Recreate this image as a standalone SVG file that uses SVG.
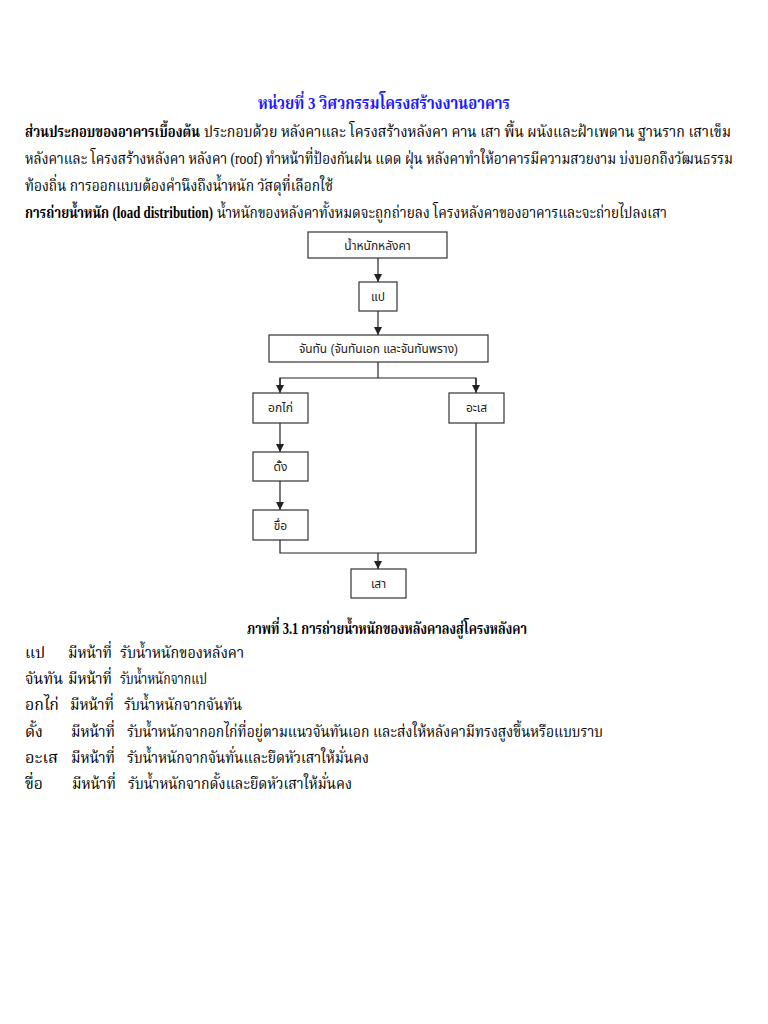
<svg xmlns="http://www.w3.org/2000/svg" width="768" height="1024" viewBox="0 0 768 1024">
<defs>
<style>
.t{font-family:"Liberation Serif","Noto Serif Thai","Noto Sans Thai","DejaVu Serif",serif;font-size:16px;fill:#000}
.b{font-weight:bold}
.title{font-family:"Liberation Serif","Noto Serif Thai","Noto Sans Thai",serif;font-size:17px;font-weight:bold;fill:#1a1aff}
.box{fill:#fff;stroke:#333;stroke-width:1.2}
.bt{font-family:"Liberation Sans","Noto Sans Thai","Noto Sans",sans-serif;font-size:12px;fill:#222;text-anchor:middle}
.ln{fill:none;stroke:#222;stroke-width:1.2}
</style>
<marker id="ah" viewBox="0 0 10 10" refX="10" refY="5" markerWidth="8" markerHeight="8" markerUnits="userSpaceOnUse" orient="auto">
<path d="M0,0 L10,5 L0,10 z" fill="#222"/>
</marker>
</defs>
<rect width="768" height="1024" fill="#fff"/>

<text class="title" x="258" y="109" textLength="252" lengthAdjust="spacingAndGlyphs">หน่วยที่ 3 วิศวกรรมโครงสร้างงานอาคาร</text>
<text class="t b" x="25" y="137" textLength="175" lengthAdjust="spacingAndGlyphs">ส่วนประกอบของอาคารเบื้องต้น</text>
<text class="t" x="204" y="137" textLength="527" lengthAdjust="spacingAndGlyphs">ประกอบด้วย หลังคาและ โครงสร้างหลังคา คาน เสา พื้น ผนังและฝ้าเพดาน ฐานราก เสาเข็ม</text>
<text class="t" x="25" y="164" textLength="708" lengthAdjust="spacingAndGlyphs">หลังคาและ โครงสร้างหลังคา  หลังคา (roof) ทำหน้าที่ป้องกันฝน แดด ฝุ่น หลังคาทำให้อาคารมีความสวยงาม บ่งบอกถึงวัฒนธรรม</text>
<text class="t" x="25" y="191" textLength="308" lengthAdjust="spacingAndGlyphs">ท้องถิ่น การออกแบบต้องคำนึงถึงน้ำหนัก วัสดุที่เลือกใช้</text>
<text class="t b" x="25" y="218" textLength="188" lengthAdjust="spacingAndGlyphs">การถ่ายน้ำหนัก (load distribution)</text>
<text class="t" x="217" y="218" textLength="450" lengthAdjust="spacingAndGlyphs">น้ำหนักของหลังคาทั้งหมดจะถูกถ่ายลง โครงหลังคาของอาคารและจะถ่ายไปลงเสา</text>

<g id="connectors">
<line class="ln" x1="378" y1="258" x2="378" y2="282" marker-end="url(#ah)"/>
<line class="ln" x1="378" y1="311" x2="378" y2="335" marker-end="url(#ah)"/>
<polyline class="ln" points="378,362 378,378"/>
<polyline class="ln" points="280,386 280,378 476,378 476,386"/>
<line class="ln" x1="280" y1="378" x2="280" y2="393" marker-end="url(#ah)"/>
<line class="ln" x1="476" y1="378" x2="476" y2="393" marker-end="url(#ah)"/>
<line class="ln" x1="280" y1="423" x2="280" y2="452" marker-end="url(#ah)"/>
<line class="ln" x1="280" y1="481" x2="280" y2="510" marker-end="url(#ah)"/>
<polyline class="ln" points="280,540 280,553 476,553 476,423"/>
<line class="ln" x1="378" y1="553" x2="378" y2="569" marker-end="url(#ah)"/>
</g>

<g id="n1"><rect class="box" x="308" y="232" width="139" height="26"/><text class="bt" x="377.5" y="250">น้ำหนักหลังคา</text></g>
<g id="n2"><rect class="box" x="359" y="282" width="38" height="29"/><text class="bt" x="378" y="301">แป</text></g>
<g id="n3"><rect class="box" x="269" y="335" width="219" height="27"/><text class="bt" x="299" y="353" style="text-anchor:start" textLength="159" lengthAdjust="spacingAndGlyphs">จันทัน (จันทันเอก และจันทันพราง)</text></g>
<g id="n4"><rect class="box" x="253" y="393" width="55" height="30"/><text class="bt" x="280.5" y="412">อกไก่</text></g>
<g id="n5"><rect class="box" x="449" y="393" width="55" height="30"/><text class="bt" x="476.5" y="412">อะเส</text></g>
<g id="n6"><rect class="box" x="253" y="452" width="55" height="29"/><text class="bt" x="280.5" y="471">ดั้ง</text></g>
<g id="n7"><rect class="box" x="253" y="510" width="55" height="30"/><text class="bt" x="280.5" y="530">ขื่อ</text></g>
<g id="n8"><rect class="box" x="351" y="569" width="55" height="29"/><text class="bt" x="378.5" y="588">เสา</text></g>

<text class="t b" x="247" y="634" font-size="14" textLength="280" lengthAdjust="spacingAndGlyphs">ภาพที่ 3.1 การถ่ายน้ำหนักของหลังคาลงสู่โครงหลังคา</text>

<g id="list">
<text class="t" x="25" y="658" textLength="20" lengthAdjust="spacingAndGlyphs">แป</text>
<text class="t" x="68" y="658" textLength="44" lengthAdjust="spacingAndGlyphs">มีหน้าที่</text>
<text class="t" x="120" y="658" textLength="124" lengthAdjust="spacingAndGlyphs">รับน้ำหนักของหลังคา</text>

<text class="t" x="25" y="684" textLength="38" lengthAdjust="spacingAndGlyphs">จันทัน</text>
<text class="t" x="68" y="684" textLength="44" lengthAdjust="spacingAndGlyphs">มีหน้าที่</text>
<text class="t" x="120" y="684" textLength="87" lengthAdjust="spacingAndGlyphs">รับน้ำหนักจากแป</text>

<text class="t" x="25" y="710" textLength="34" lengthAdjust="spacingAndGlyphs">อกไก่</text>
<text class="t" x="70" y="710" textLength="44" lengthAdjust="spacingAndGlyphs">มีหน้าที่</text>
<text class="t" x="124" y="710" textLength="118" lengthAdjust="spacingAndGlyphs">รับน้ำหนักจากจันทัน</text>

<text class="t" x="25" y="737" textLength="18" lengthAdjust="spacingAndGlyphs">ดั้ง</text>
<text class="t" x="71" y="737" textLength="44" lengthAdjust="spacingAndGlyphs">มีหน้าที่</text>
<text class="t" x="127" y="737" textLength="476" lengthAdjust="spacingAndGlyphs">รับน้ำหนักจากอกไก่ที่อยู่ตามแนวจันทันเอก และส่งให้หลังคามีทรงสูงขึ้นหรือแบบราบ</text>

<text class="t" x="25" y="763" textLength="33" lengthAdjust="spacingAndGlyphs">อะเส</text>
<text class="t" x="71" y="763" textLength="44" lengthAdjust="spacingAndGlyphs">มีหน้าที่</text>
<text class="t" x="127" y="763" textLength="242" lengthAdjust="spacingAndGlyphs">รับน้ำหนักจากจันทั่นและยึดหัวเสาให้มั่นคง</text>

<text class="t" x="25" y="789" textLength="18" lengthAdjust="spacingAndGlyphs">ขื่อ</text>
<text class="t" x="72" y="789" textLength="44" lengthAdjust="spacingAndGlyphs">มีหน้าที่</text>
<text class="t" x="128" y="789" textLength="224" lengthAdjust="spacingAndGlyphs">รับน้ำหนักจากดั้งและยึดหัวเสาให้มั่นคง</text>
</g>
</svg>
